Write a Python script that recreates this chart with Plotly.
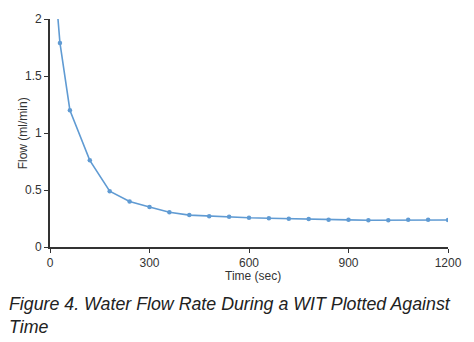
import plotly.graph_objects as go

time_sec = [0, 30, 60, 120, 180, 240, 300, 360, 420, 480, 540, 600, 660, 720,
            780, 840, 900, 960, 1020, 1080, 1140, 1200]
flow = [2.85, 1.79, 1.20, 0.76, 0.49, 0.40, 0.35, 0.305, 0.28, 0.27, 0.265, 0.256,
        0.252, 0.247, 0.245, 0.24, 0.238, 0.234, 0.234, 0.238, 0.238, 0.237]
x_ticks = [0, 300, 600, 900, 1200]
y_ticks = [0, 0.5, 1, 1.5, 2]
y_tick_labels = ["0", "0.5", "1", "1.5", "2"]
x_title = "Time (sec)"
y_title = "Flow (ml/min)"
caption = "Figure 4. Water Flow Rate During a WIT Plotted Against<br>Time"

FONT = "Liberation Sans, Arial"

fig = go.Figure()
fig.add_trace(go.Scatter(
    x=time_sec, y=flow, mode="lines+markers",
    line=dict(color="#609bd3", width=1.6),
    marker=dict(color="#609bd3", size=4.5),
    cliponaxis=True, showlegend=False,
))

axis_common = dict(
    showgrid=False, zeroline=False, showline=True, linecolor="#333333", linewidth=1.6,
    ticks="outside", ticklen=4, tickwidth=1.4, tickcolor="#333333",
    tickfont=dict(family=FONT, size=12, color="#333333"),
)

fig.update_xaxes(range=[0, 1200], tickvals=x_ticks, ticktext=[str(v) for v in x_ticks],
                 **axis_common)
fig.update_yaxes(range=[0, 2], tickvals=y_ticks, ticktext=y_tick_labels,
                 **axis_common)

title_font = dict(family=FONT, size=12, color="#333333")
fig.add_annotation(text=x_title, xref="paper", yref="paper", x=0.51, y=-0.127,
                   xanchor="center", yanchor="middle", showarrow=False, font=title_font)
fig.add_annotation(text=y_title, xref="paper", yref="paper", x=-0.067, y=0.5,
                   xanchor="center", yanchor="middle", textangle=-90, showarrow=False,
                   font=title_font)

fig.add_annotation(
    text=caption, xref="paper", yref="paper", x=-0.109, y=-0.196,
    xanchor="left", yanchor="top", align="left", showarrow=False,
    font=dict(family=FONT, size=17.8, color="#222222", style="italic"),
)

fig.update_layout(
    width=474, height=342,
    margin=dict(l=50, r=20, t=18, b=95),
    plot_bgcolor="white", paper_bgcolor="white",
)

fig.write_html("out.html")
